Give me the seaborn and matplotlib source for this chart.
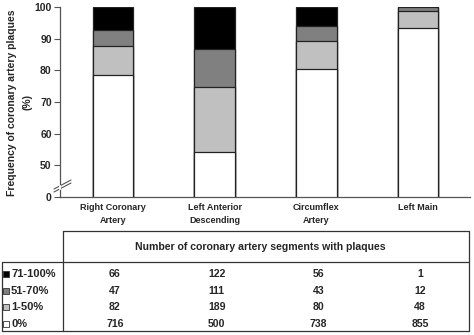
import matplotlib
matplotlib.use("Agg")
import matplotlib.pyplot as plt
from matplotlib.lines import Line2D
from matplotlib.patches import Rectangle
import numpy as np
import pandas as pd
import seaborn as sns

# ---- data ----
categories = ["Right Coronary\nArtery", "Left Anterior\nDescending", "Circumflex\nArtery", "Left Main"]
grades = ["71-100%", "51-70%", "1-50%", "0%"]
n_71_100 = [66, 122, 56, 1]
n_51_70 = [47, 111, 43, 12]
n_1_50 = [82, 189, 80, 48]
n_0 = [716, 500, 738, 855]
y_ticks = [40, 50, 60, 70, 80, 90, 100]
y_tick_labels = ["0", "50", "60", "70", "80", "90", "100"]
grade_colors = ["#000000", "#808080", "#c0c0c0", "#ffffff"]

sns.set_theme(style="white")
plt.rcParams["font.family"] = ["Liberation Sans", "DejaVu Sans"]
plt.rcParams["font.weight"] = "bold"

W, H = 474, 335
fig = plt.figure(figsize=(W / 100, H / 100), dpi=100)

def fx(px):
    return px / W

def fy(py):
    return 1 - py / H

ax = fig.add_axes([fx(60), fy(197), fx(470) - fx(60), fy(7) - fy(197)])

counts = np.array([n_71_100, n_51_70, n_1_50, n_0], dtype=float)
totals = counts.sum(axis=0)
pct = counts / totals * 100
order_bottom_up = [3, 2, 1, 0]
cum = np.cumsum(pct[order_bottom_up], axis=0)

for level in [3, 2, 1, 0]:
    gi = order_bottom_up[level]
    df = pd.DataFrame({"cat": categories, "val": cum[level]})
    sns.barplot(data=df, x="cat", y="val", color=grade_colors[gi], edgecolor="#222222",
                linewidth=0.9, width=0.4, saturation=1, ax=ax)

ax.set_ylim(40, 100)
ax.set_xlim(-0.52, 3.51)
ax.set_yticks(y_ticks)
ax.set_yticklabels(y_tick_labels, fontsize=7.5, fontweight="bold")
ax.set_xlabel("")
ax.set_ylabel("")
fig.text(fx(19.5), fy(102.5), "Frequency of coronary artery plaques\n(%)", rotation=90,
         ha="center", va="center", multialignment="center", fontsize=7.5, fontweight="bold",
         linespacing=1.65)
ax.tick_params(axis="y", direction="out", length=4, width=0.8, color="#555555", pad=2, left=True)
ax.tick_params(axis="x", length=0, pad=4)
for lbl in ax.get_xticklabels():
    lbl.set_fontsize(6.5)
    lbl.set_fontweight("bold")
    lbl.set_linespacing(1.6)
for side in ["top", "right"]:
    ax.spines[side].set_visible(False)
for side in ["left", "bottom"]:
    ax.spines[side].set_color("#555555")
    ax.spines[side].set_linewidth(0.9)

# axis break marks
for off in [0, 3]:
    fig.add_artist(Line2D([fx(54), fx(71)], [fy(192 - off), fy(183 - off)], color="#555555", lw=0.8))
fig.add_artist(Line2D([fx(60), fx(60)], [fy(188.5), fy(186)], color="white", lw=1.5))

# ---- table ----
lc = "#333333"
lw = 0.9
top, hline, bottom = 231, 262, 331
left_out, left_in, right = 2, 63, 469
fig.add_artist(Line2D([fx(left_in), fx(right)], [fy(top), fy(top)], color=lc, lw=lw))
fig.add_artist(Line2D([fx(left_out), fx(right)], [fy(hline), fy(hline)], color=lc, lw=lw))
fig.add_artist(Line2D([fx(left_out), fx(right)], [fy(bottom), fy(bottom)], color=lc, lw=lw))
fig.add_artist(Line2D([fx(left_in), fx(left_in)], [fy(top), fy(bottom)], color=lc, lw=lw))
fig.add_artist(Line2D([fx(right), fx(right)], [fy(top), fy(bottom)], color=lc, lw=lw))
fig.add_artist(Line2D([fx(left_out), fx(left_out)], [fy(hline), fy(bottom)], color=lc, lw=lw))

fig.text(fx(260), fy(247), "Number of coronary artery segments with plaques", ha="center", va="center",
         fontsize=7.6, fontweight="bold")

row_y = [274, 291, 307, 324]
for r, gi in enumerate(range(4)):
    yy = fy(row_y[r])
    sq = 6
    fig.add_artist(Rectangle((fx(3), fy(row_y[r] + sq / 2)), sq / W, sq / H,
                             facecolor=grade_colors[gi], edgecolor="#333333", lw=0.6))
    fig.text(fx(11), yy, grades[gi], ha="left", va="center", fontsize=8, fontweight="bold")
    for c in range(len(categories)):
        xd = ax.transData.transform((c, 50))[0]
        fig.text(xd / fig.bbox.width + fx(2), yy, str(int(counts[gi, c])), ha="center", va="center",
                 fontsize=7.6, fontweight="bold")

fig.savefig("out.png", dpi=100, facecolor="white")
